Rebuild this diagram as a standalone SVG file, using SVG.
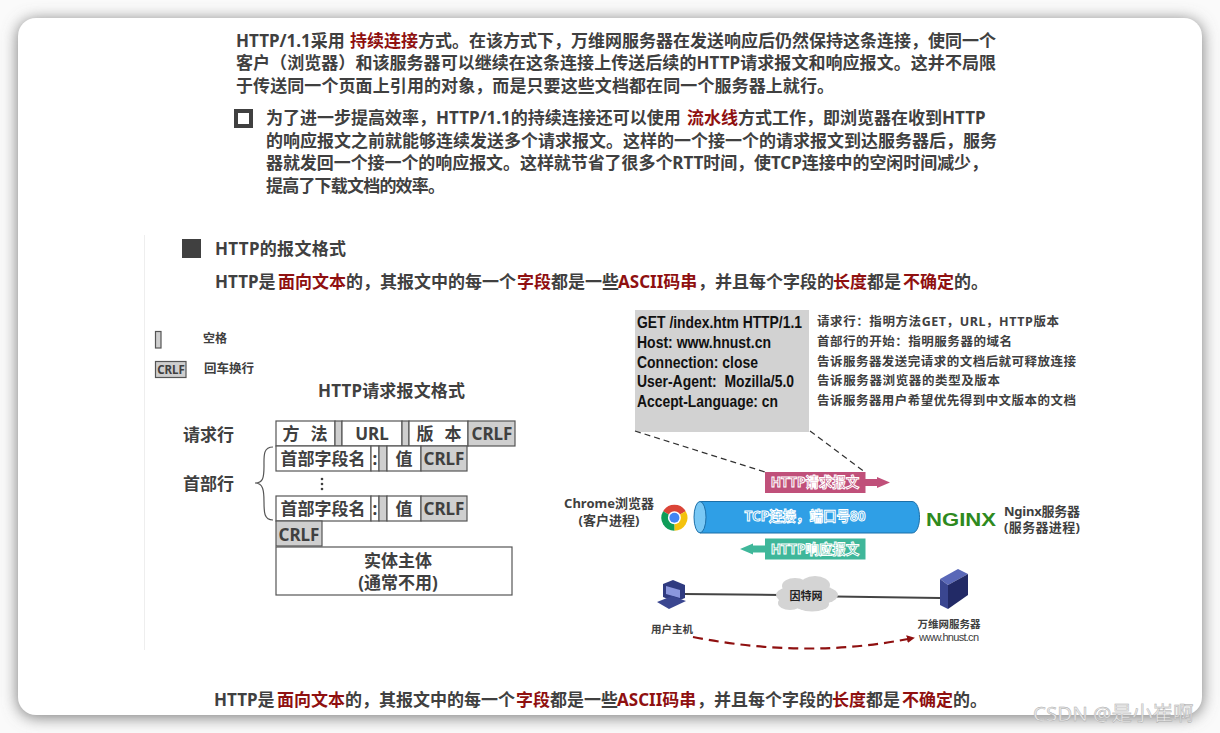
<svg xmlns="http://www.w3.org/2000/svg" width="1220" height="733" viewBox="0 0 1220 733">
<style>
text{font-family:"Noto Sans","Noto Sans CJK SC",sans-serif;font-weight:700;fill:#404040}
.b{font-size:17px}
.r{fill:#8f1010}
.c{text-anchor:middle}
.cell{fill:#fff;stroke:#555;stroke-width:1.2}
.g{fill:#cfcfcf;stroke:#555;stroke-width:1.2}
.a{font-size:12.5px}
.m{font-size:17px;fill:#111;font-family:"Liberation Sans",sans-serif}
.o{stroke:#fff;stroke-width:1px;font-size:13.5px}
.dash{fill:none;stroke:#333;stroke-width:1.2;stroke-dasharray:6 4}
</style>
<defs>
<filter id="sh" x="-5%" y="-5%" width="110%" height="110%"><feGaussianBlur stdDeviation="8"/></filter>
<marker id="ah" markerWidth="10" markerHeight="10" refX="1" refY="4" orient="auto" markerUnits="userSpaceOnUse"><path d="M0 0L8 4L0 8Z" fill="#8f1010"/></marker>
</defs>
<rect width="1220" height="733" fill="#fafafa"/>
<rect x="18" y="20" width="1184" height="697" rx="18" fill="#777" filter="url(#sh)"/>
<rect x="18" y="18" width="1184" height="697" rx="18" fill="#fff"/>
<path d="M144.500 235V650" stroke="#eee" stroke-width="1"/>

<g id="intro">
<text class="b" y="47"><tspan x="236">HTTP/1.1采用</tspan><tspan class="r" x="350">持续连接</tspan><tspan x="418">方式。在该方式下，万维网服务器在发送响应后仍然保持这条连接，使同一个</tspan></text>
<text class="b" x="236" y="69" textLength="760">客户（浏览器）和该服务器可以继续在这条连接上传送后续的HTTP请求报文和响应报文。这并不局限</text>
<text class="b" x="236" y="92" textLength="598">于传送同一个页面上引用的对象，而是只要这些文档都在同一个服务器上就行。</text>
<rect x="236" y="111" width="15" height="15" fill="none" stroke="#404040" stroke-width="4"/>
<text class="b" y="124"><tspan x="266">为了进一步提高效率，HTTP/1.1的持续连接还可以使用</tspan><tspan class="r" x="687">流水线</tspan><tspan x="738">方式工作，即浏览器在收到HTTP</tspan></text>
<text class="b" x="266" y="147" textLength="731">的响应报文之前就能够连续发送多个请求报文。这样的一个接一个的请求报文到达服务器后，服务</text>
<text class="b" x="266" y="169" textLength="722">器就发回一个接一个的响应报文。这样就节省了很多个RTT时间，使TCP连接中的空闲时间减少，</text>
<text class="b" x="266" y="192" textLength="179">提高了下载文档的效率。</text>
</g>

<g id="section">
<rect x="182" y="239" width="19" height="19" fill="#404040"/>
<text class="b" x="215" y="255" textLength="131">HTTP的报文格式</text>
<text class="b" y="288"><tspan x="215">HTTP是</tspan><tspan class="r" x="278">面向文本</tspan><tspan x="346">的，其报文中的每一个</tspan><tspan class="r" x="517">字段</tspan><tspan x="551">都是一些</tspan><tspan class="r" x="618">ASCII码串</tspan><tspan x="698">，并且每个字段的</tspan><tspan class="r" x="833">长度</tspan><tspan x="867">都是</tspan><tspan class="r" x="903">不确定</tspan><tspan x="954">的。</tspan></text>
</g>

<g id="legend">
<rect class="g" x="155.500" y="331.500" width="5.500" height="16.500"/>
<text x="203" y="343" font-size="12">空格</text>
<rect class="g" x="155.500" y="361.500" width="30.500" height="16"/>
<text class="c" x="171" y="374" font-size="11.500">CRLF</text>
<text x="204" y="373" font-size="12.500">回车换行</text>
</g>

<g id="format">
<text class="b" x="318" y="397" textLength="147">HTTP请求报文格式</text>
<text class="b" x="183" y="441" textLength="51">请求行</text>
<text class="b" x="183" y="490" textLength="51">首部行</text>
<path d="M273 447C263 447 264 456 264 466C264 478 263 483 255 483C263 483 264 490 264 502C264 512 264 520 273 520" fill="none" stroke="#555" stroke-width="1.200"/>
</g>

<g id="row-request">
<rect class="cell" x="276" y="421" width="59" height="25"/>
<rect class="g" x="335" y="421" width="7" height="25"/>
<rect class="cell" x="342" y="421" width="60" height="25"/>
<rect class="g" x="402" y="421" width="7" height="25"/>
<rect class="cell" x="409" y="421" width="59" height="25"/>
<rect class="g" x="468" y="421" width="47" height="25"/>
<text class="c b" x="305" y="440" textLength="45">方 法</text>
<text class="c b" x="372" y="440">URL</text>
<text class="c b" x="439" y="440" textLength="45">版 本</text>
<text class="c b" x="492" y="440">CRLF</text>
</g>
<g id="row-header-1">
<rect class="cell" x="276" y="446" width="95" height="25"/>
<rect class="cell" x="371" y="446" width="8" height="25"/>
<rect class="g" x="379" y="446" width="8" height="25"/>
<rect class="cell" x="387" y="446" width="34" height="25"/>
<rect class="g" x="421" y="446" width="46" height="25"/>
<text class="c b" x="323" y="465">首部字段名</text>
<text class="c b" x="375" y="465">:</text>
<text class="c b" x="404" y="465">值</text>
<text class="c b" x="444" y="465">CRLF</text>
</g>
<g id="dots"><circle cx="322" cy="479" r="1.300" fill="#404040"/><circle cx="322" cy="484" r="1.300" fill="#404040"/><circle cx="322" cy="489" r="1.300" fill="#404040"/></g>
<g id="row-header-2">
<rect class="cell" x="276" y="496" width="95" height="25"/>
<rect class="cell" x="371" y="496" width="8" height="25"/>
<rect class="g" x="379" y="496" width="8" height="25"/>
<rect class="cell" x="387" y="496" width="34" height="25"/>
<rect class="g" x="421" y="496" width="46" height="25"/>
<text class="c b" x="323" y="515">首部字段名</text>
<text class="c b" x="375" y="515">:</text>
<text class="c b" x="404" y="515">值</text>
<text class="c b" x="444" y="515">CRLF</text>
</g>
<g id="row-crlf">
<rect class="g" x="276" y="521" width="46" height="25"/>
<text class="c b" x="299" y="541">CRLF</text>
</g>
<g id="row-body">
<rect class="cell" x="276" y="547" width="236" height="48"/>
<text class="c b" x="398" y="567">实体主体</text>
<text class="c b" x="398" y="589">(通常不用)</text>
</g>

<g id="request-box">
<rect x="635" y="310" width="174" height="122" fill="#d2d2d2"/>
<text class="m" x="637" y="328" textLength="165" lengthAdjust="spacingAndGlyphs">GET /index.htm HTTP/1.1</text>
<text class="m" x="637" y="348" textLength="134" lengthAdjust="spacingAndGlyphs">Host: www.hnust.cn</text>
<text class="m" x="637" y="368" textLength="121" lengthAdjust="spacingAndGlyphs">Connection: close</text>
<text class="m" x="637" y="387" textLength="157" lengthAdjust="spacingAndGlyphs" xml:space="preserve">User-Agent:  Mozilla/5.0</text>
<text class="m" x="637" y="407" textLength="141" lengthAdjust="spacingAndGlyphs">Accept-Language: cn</text>
</g>
<g id="annotations">
<text class="a" x="817" y="326" textLength="242">请求行：指明方法GET，URL，HTTP版本</text>
<text class="a" x="817" y="346" textLength="195">首部行的开始：指明服务器的域名</text>
<text class="a" x="817" y="366" textLength="259">告诉服务器发送完请求的文档后就可释放连接</text>
<text class="a" x="817" y="385" textLength="183">告诉服务器浏览器的类型及版本</text>
<text class="a" x="817" y="405" textLength="259">告诉服务器用户希望优先得到中文版本的文档</text>
</g>

<g id="connectors">
<path class="dash" d="M635 431L765 472"/>
<path class="dash" d="M810 431L866 473"/>
<path d="M684 594L780 595M835 596.500L940 598" stroke="#444" stroke-width="2" fill="none"/>
<path d="M693 637Q805 659 908 639" fill="none" stroke="#8f1010" stroke-width="2.200" stroke-dasharray="10 6" marker-end="url(#ah)"/>
</g>

<g id="http-request">
<path d="M765 472H865.500V479H877V477L890 482.500L877 488V486H865.500V493H765Z" fill="#c0507a"/>
<text class="c o" x="815" y="487" style="fill:#c0507a">HTTP请求报文</text>
</g>
<g id="tcp-pipe">
<path d="M700 501.500H912C922 501.500 922 533 912 533H700Z" fill="#2f9fe6" stroke="#1b6fa8"/>
<ellipse cx="700" cy="517.200" rx="6" ry="15.700" fill="#79c8f5" stroke="#1b6fa8"/>
<text class="c o" x="805" y="521" style="fill:#2f9fe6">TCP连接，端口号80</text>
</g>
<g id="http-response">
<path d="M865.500 538.500H765V545.500H753V543.500L740 549L753 554.500V552.500H765V559.500H865.500Z" fill="#3fb79a"/>
<text class="c o" x="815" y="554" style="fill:#3fb79a">HTTP响应报文</text>
</g>
<g id="chrome">
<text class="c" x="609" y="508" font-size="13">Chrome浏览器</text>
<text class="c" x="609" y="525" font-size="13">(客户进程)</text>
<path d="M674.400 517.700L663.140 511.200A13 13 0 0 1 685.660 511.200Z" fill="#db4437"/>
<path d="M674.400 517.700L685.660 511.200A13 13 0 0 1 674.400 530.700Z" fill="#f4c20d"/>
<path d="M674.400 517.700L674.400 530.700A13 13 0 0 1 663.140 511.200Z" fill="#0f9d58"/>
<circle cx="674.400" cy="517.700" r="6.500" fill="#fff"/>
<circle cx="674.400" cy="517.700" r="5" fill="#4285f4"/>
</g>
<g id="nginx">
<text x="926" y="526" font-size="19" textLength="70" lengthAdjust="spacingAndGlyphs" style="fill:#2f8a1e;font-family:'Liberation Sans',sans-serif">NGINX</text>
<text x="1004" y="516" font-size="13" textLength="76">Nginx服务器</text>
<text x="1004" y="532" font-size="13" textLength="76">(服务器进程)</text>
</g>
<g id="host">
<path d="M663 584L673 580L685 585V598L675 602L663 597Z" fill="#2f3a80"/>
<path d="M666 586L680 590V598L666 594Z" fill="#8b97dd"/>
<path d="M657 602L672 596L686 601L669 609Z" fill="#3a4690"/>
<text class="c" x="672" y="633" font-size="10.500">用户主机</text>
</g>
<g id="internet">
<g fill="#d4d4d4"><ellipse cx="807" cy="595" rx="31" ry="11"/><ellipse cx="795" cy="586" rx="13" ry="8"/><ellipse cx="815" cy="585" rx="15" ry="9"/><ellipse cx="790" cy="603" rx="12" ry="7"/><ellipse cx="812" cy="604" rx="17" ry="7.500"/></g>
<text class="c" x="806" y="600" font-size="11" style="fill:#222">因特网</text>
</g>
<g id="server">
<path d="M940 579L958 569L968 574L948 585Z" fill="#5a68b8"/>
<path d="M940 579L948 585V609L940 605Z" fill="#3a4690"/>
<path d="M948 585L968 574V595L948 609Z" fill="#222a66"/>
<text class="c" x="949" y="628" font-size="10.500">万维网服务器</text>
<text x="919" y="641" font-size="11" textLength="60" style="font-weight:400;font-family:'Liberation Sans',sans-serif">www.hnust.cn</text>
</g>

<g id="footer">
<text class="b" y="706"><tspan x="214">HTTP是</tspan><tspan class="r" x="277">面向文本</tspan><tspan x="345">的，其报文中的每一个</tspan><tspan class="r" x="516">字段</tspan><tspan x="550">都是一些</tspan><tspan class="r" x="617">ASCII码串</tspan><tspan x="697">，并且每个字段的</tspan><tspan class="r" x="832">长度</tspan><tspan x="866">都是</tspan><tspan class="r" x="902">不确定</tspan><tspan x="953">的。</tspan></text>
</g>
<g id="watermark">
<text x="1033" y="721" font-size="20.500" style="font-weight:400;fill:#e8e8e8;stroke:#a8a8a8;stroke-width:.4px">CSDN @是小崔啊</text>
</g>
</svg>
